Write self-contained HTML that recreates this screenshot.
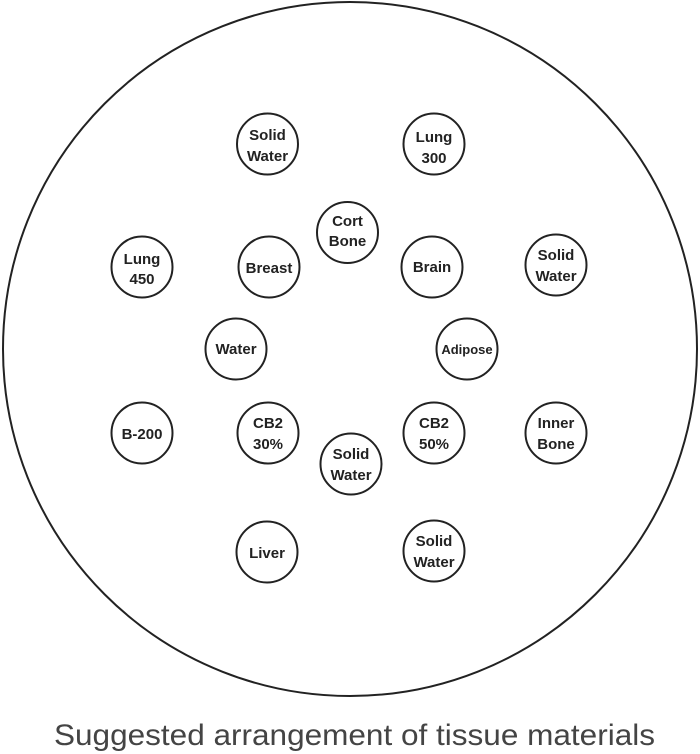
<!DOCTYPE html>
<html><head><meta charset="utf-8"><style>
html,body{margin:0;padding:0;background:#fff;}
svg{display:block}
.l{font-family:"Liberation Sans",Arial,sans-serif;font-weight:bold;font-size:15px;fill:#222;text-anchor:middle}
</style></head><body>
<svg width="700" height="754" viewBox="0 0 700 754" xmlns="http://www.w3.org/2000/svg">
<ellipse cx="350" cy="349" rx="347" ry="347" fill="none" stroke="#222" stroke-width="2"/>
<g fill="#fff" stroke="#222" stroke-width="2">
<circle cx="267.5" cy="144" r="30.5"/>
<circle cx="434" cy="144" r="30.5"/>
<circle cx="347.5" cy="232.5" r="30.5"/>
<circle cx="142" cy="267" r="30.5"/>
<circle cx="269" cy="267" r="30.5"/>
<circle cx="432" cy="267" r="30.5"/>
<circle cx="556" cy="265" r="30.5"/>
<circle cx="236" cy="349" r="30.5"/>
<circle cx="467" cy="349" r="30.5"/>
<circle cx="142" cy="433" r="30.5"/>
<circle cx="268" cy="433" r="30.5"/>
<circle cx="351" cy="464" r="30.5"/>
<circle cx="434" cy="433" r="30.5"/>
<circle cx="556" cy="433" r="30.5"/>
<circle cx="267" cy="552" r="30.5"/>
<circle cx="434" cy="551" r="30.5"/>
</g>
<g class="l">
<text x="267.5" y="140" class="l">Solid</text><text x="267.5" y="161" class="l">Water</text>
<text x="434" y="142" class="l">Lung</text><text x="434" y="163" class="l">300</text>
<text x="347.5" y="226" class="l">Cort</text><text x="347.5" y="246" class="l">Bone</text>
<text x="142" y="264" class="l">Lung</text><text x="142" y="284" class="l">450</text>
<text x="269" y="273" class="l">Breast</text>
<text x="432" y="272" class="l">Brain</text>
<text x="556" y="260" class="l">Solid</text><text x="556" y="281" class="l">Water</text>
<text x="236" y="354" class="l">Water</text>
<text x="467" y="354" class="l" style="font-size:13px">Adipose</text>
<text x="142" y="439" class="l">B-200</text>
<text x="268" y="428" class="l">CB2</text><text x="268" y="449" class="l">30%</text>
<text x="351" y="459" class="l">Solid</text><text x="351" y="480" class="l">Water</text>
<text x="434" y="428" class="l">CB2</text><text x="434" y="449" class="l">50%</text>
<text x="556" y="428" class="l">Inner</text><text x="556" y="449" class="l">Bone</text>
<text x="267" y="558" class="l">Liver</text>
<text x="434" y="546" class="l">Solid</text><text x="434" y="567" class="l">Water</text>
</g>
<text x="54" y="745" font-family="Liberation Sans,Arial,sans-serif" font-size="30" fill="#444" textLength="601" lengthAdjust="spacingAndGlyphs">Suggested arrangement of tissue materials</text>
</svg>
</body></html>
